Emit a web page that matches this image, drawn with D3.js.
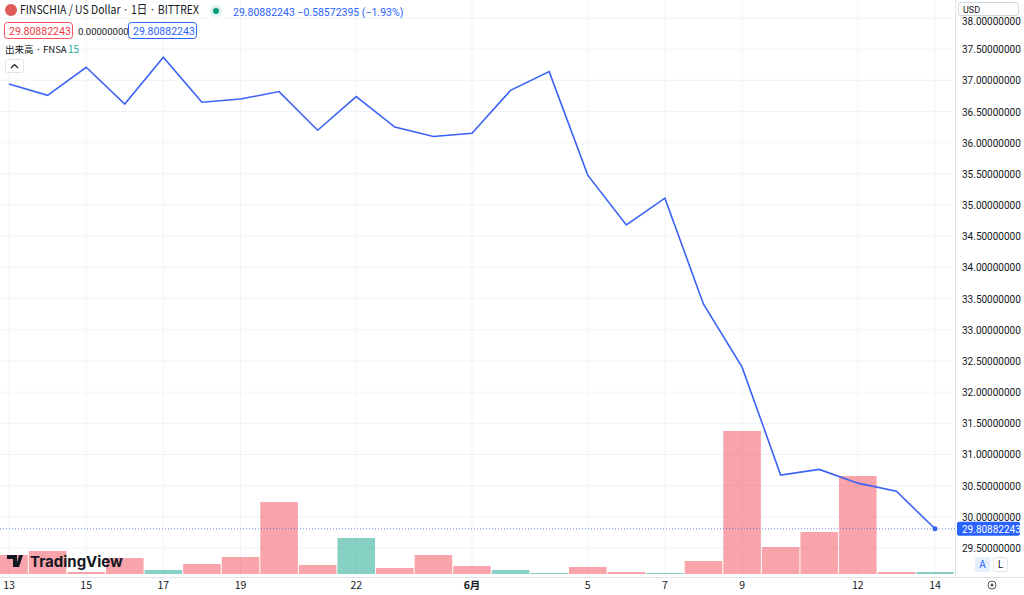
<!DOCTYPE html>
<html><head><meta charset="utf-8">
<script src="https://cdn.jsdelivr.net/npm/d3@7"></script>
<style>body{margin:0;background:#fff;font-family:"Noto Sans CJK JP","Noto Sans",sans-serif}</style>
</head><body><svg id="c" width="1024" height="595"></svg>
<script>
const prices=[36.94,36.76,37.21,36.62,37.37,36.65,36.70,36.82,36.20,36.74,36.25,36.10,36.15,36.84,37.14,35.48,34.68,35.11,33.41,32.40,30.67,30.76,30.54,30.41,29.80882243];
const volumes=[19,23,2,16,4,10,17,72,9,36,6,19,8,4,1,7,2,1,13,143,27,42,98,2,2];
const volUp=[0,0,0,0,1,0,0,0,0,1,0,0,0,1,1,0,0,1,0,0,0,0,0,0,1];
const tickIdx=[0,2,4,6,9,12,15,17,19,22,24];
const tickLabels=["13","15","17","19","22","6月","5","7","9","12","14"];
const yTicks=[29.5,30,30.5,31,31.5,32,32.5,33,33.5,34,34.5,35,35.5,36,36.5,37,37.5,38];
const svg=d3.select("#c");
const x=d3.scaleLinear().domain([0,24]).range([9,935]);
const y=d3.scaleLinear().domain([29.5,38]).range([548,18]);
const yv=d3.scaleLinear().domain([0,143]).range([574,431]);
const bw=x(1)-x(0);
const F="Roboto,sans-serif";
const g=svg.append("g");
g.selectAll(".h").data(yTicks).join("line").attr("x1",0).attr("x2",955).attr("y1",d=>y(d)).attr("y2",d=>y(d)).attr("stroke","#f0f3fa");
g.selectAll(".v").data(tickIdx).join("line").attr("x1",d=>x(d)).attr("x2",d=>x(d)).attr("y1",0).attr("y2",577).attr("stroke","#f0f3fa");
svg.selectAll(".b").data(volumes).join("rect").attr("x",(d,i)=>x(i)-bw/2+0.5).attr("width",bw-1).attr("y",d=>yv(d)).attr("height",d=>574-yv(d))
 .attr("fill",(d,i)=>volUp[i]?"rgba(34,171,148,0.55)":"rgba(242,54,69,0.45)");
svg.append("path").datum(prices).attr("d",d3.line().x((d,i)=>x(i)).y(d=>y(d))).attr("fill","none").attr("stroke","#3a63f5").attr("stroke-width",1.6);
const last=prices[prices.length-1];
svg.append("line").attr("x1",0).attr("x2",955).attr("y1",y(last)).attr("y2",y(last)).attr("stroke","#3a63f5").attr("stroke-dasharray","1,2").attr("opacity",0.7);
svg.append("circle").attr("cx",x(24)).attr("cy",y(last)).attr("r",2.5).attr("fill","#3a63f5");
svg.append("line").attr("x1",955.5).attr("x2",955.5).attr("y1",0).attr("y2",577).attr("stroke","#e0e3eb");
svg.selectAll(".yl").data(yTicks.filter(d=>d<38)).join("text").attr("x",962).attr("y",d=>y(d)+4).text(d=>d.toFixed(8)).attr("font-size",10).attr("fill","#131722").attr("font-family",F);
svg.append("text").attr("x",962).attr("y",25).text((38).toFixed(8)).attr("font-size",10).attr("fill","#131722").attr("font-family",F);
svg.append("rect").attr("x",957).attr("y",y(last)-7).attr("width",63).attr("height",14).attr("rx",2).attr("fill","#2962ff");
svg.append("text").attr("x",962).attr("y",y(last)+4).text("29.80882243").attr("font-size",10).attr("fill","#fff").attr("font-family",F);
svg.append("rect").attr("x",958.5).attr("y",2.5).attr("width",60).attr("height",13).attr("rx",3).attr("fill","#fff").attr("stroke","#d1d4dc");
svg.append("text").attr("x",963).attr("y",12.5).text("USD").attr("font-size",9).attr("fill","#131722").attr("font-family",F);
svg.append("rect").attr("x",0).attr("y",577).attr("width",1024).attr("height",18).attr("fill","#fff");
svg.append("line").attr("x1",0).attr("x2",1024).attr("y1",577.5).attr("y2",577.5).attr("stroke","#e0e3eb");
svg.selectAll(".xl").data(tickIdx).join("text").attr("x",d=>x(d)).attr("y",589).attr("text-anchor","middle").text((d,i)=>tickLabels[i]).attr("font-size",10.5).attr("fill","#131722").attr("font-weight",(d,i)=>tickLabels[i]=="6月"?"bold":"normal");
svg.append("circle").attr("cx",992).attr("cy",585).attr("r",4).attr("fill","none").attr("stroke","#555");
svg.append("circle").attr("cx",992).attr("cy",585).attr("r",1.5).attr("fill","#555");
svg.append("rect").attr("x",975).attr("y",557).attr("width",15).attr("height",15).attr("rx",2).attr("fill","#e3effd");
svg.append("text").attr("x",982.5).attr("y",568).attr("text-anchor","middle").text("A").attr("font-size",10).attr("fill","#2962ff");
svg.append("rect").attr("x",993.5).attr("y",557.5).attr("width",14).attr("height",14).attr("rx",2).attr("fill","#fff").attr("stroke","#e0e3eb");
svg.append("text").attr("x",1000.5).attr("y",568).attr("text-anchor","middle").text("L").attr("font-size",10).attr("fill","#131722");
svg.append("circle").attr("cx",11).attr("cy",10).attr("r",6).attr("fill","#e05a5a");
svg.append("text").attr("x",20).attr("y",14).text("FINSCHIA / US Dollar · 1日 · BITTREX").attr("font-size",12).attr("fill","#131722").attr("font-family","'Noto Sans CJK JP'").attr("textLength",179).attr("lengthAdjust","spacingAndGlyphs");
svg.append("circle").attr("cx",216).attr("cy",11).attr("r",6).attr("fill","#e0f2ee");
svg.append("circle").attr("cx",216).attr("cy",11).attr("r",3).attr("fill","#089981");
svg.append("text").attr("x",233).attr("y",16).text("29.80882243  −0.58572395 (−1.93%)").attr("font-size",10.5).attr("fill","#2962ff").attr("font-family",F);
svg.append("rect").attr("x",4.5).attr("y",22.5).attr("width",68).attr("height",16).attr("rx",3).attr("fill","#fff").attr("stroke","#f7525f");
svg.append("text").attr("x",9).attr("y",34.5).text("29.80882243").attr("font-size",10.5).attr("fill","#f23645").attr("font-family",F);
svg.append("text").attr("x",78).attr("y",34.5).text("0.00000000").attr("font-size",9.5).attr("fill","#131722").attr("font-family",F);
svg.append("rect").attr("x",128.5).attr("y",22.5).attr("width",68).attr("height",16).attr("rx",3).attr("fill","#fff").attr("stroke","#2962ff");
svg.append("text").attr("x",133).attr("y",34.5).text("29.80882243").attr("font-size",10.5).attr("fill","#2962ff").attr("font-family",F);
svg.append("text").attr("x",5).attr("y",53).text("出来高 · FNSA").attr("font-size",9.5).attr("fill","#131722");
svg.append("text").attr("x",68).attr("y",53).text("15").attr("font-size",10).attr("fill","#22ab94");
svg.append("rect").attr("x",5.5).attr("y",59.5).attr("width",18).attr("height",13).attr("rx",2).attr("fill","#fff").attr("stroke","#e0e3eb");
svg.append("path").attr("d","M11 68 L14.5 64.5 L18 68").attr("fill","none").attr("stroke","#131722").attr("stroke-width",1.2);
svg.append("path").attr("d","M7 555 h10 v12 h-4 v-8 h-6z M19 555 h4 l-4 12 h-3z").attr("fill","#131722");
svg.append("text").attr("x",30).attr("y",567).text("TradingView").attr("font-size",15).attr("font-weight","bold").attr("fill","#131722").attr("font-family","Inter,sans-serif");
</script></body></html>
